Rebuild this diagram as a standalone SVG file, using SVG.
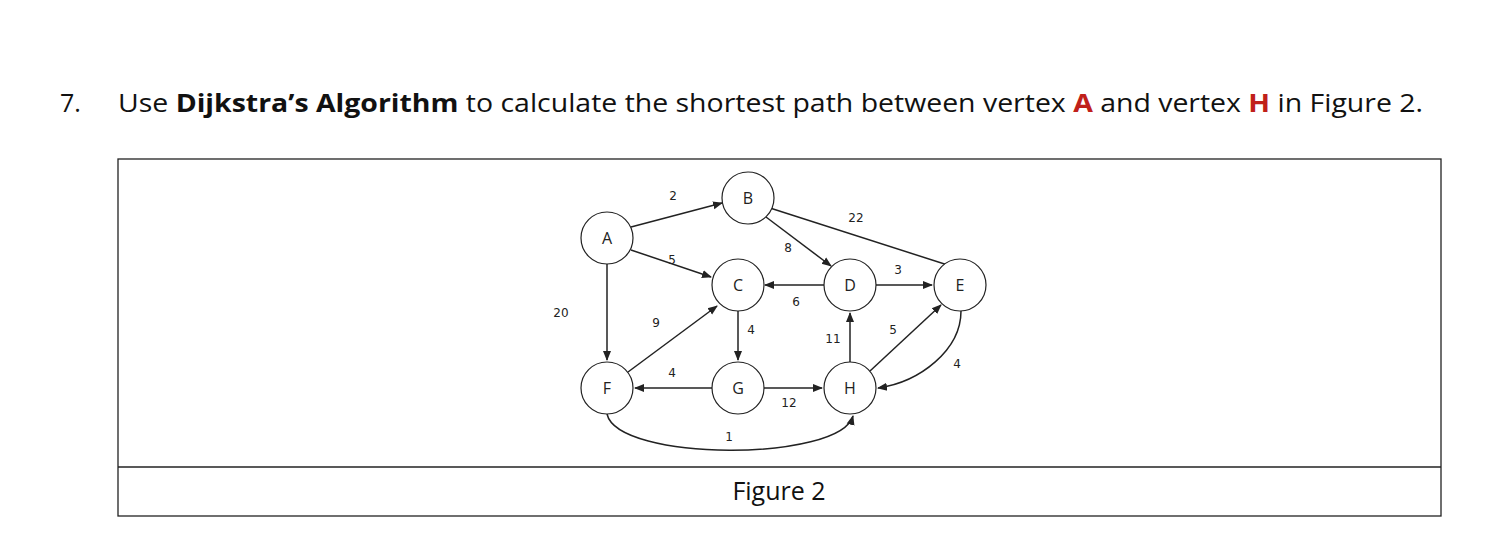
<svg xmlns="http://www.w3.org/2000/svg" width="1504" height="544" viewBox="0 0 1504 544">
<style>
.n circle{fill:#fff;stroke:#222;stroke-width:1.2}
.n text{font-family:"Open Sans","Liberation Sans",sans-serif;font-size:16px;text-anchor:middle;fill:#222}
.e path{fill:none;stroke:#222;stroke-width:1.5}
.lbl{font-family:"DejaVu Sans",sans-serif;font-size:12px;text-anchor:middle;fill:#222}
.t{font-family:"Open Sans","Liberation Sans",sans-serif;font-size:25px;fill:#111}
</style>
<defs><marker id="ar" markerWidth="10" markerHeight="10" refX="9" refY="5" orient="auto" markerUnits="userSpaceOnUse"><path d="M0,1 L10,5 L0,9 z" fill="#222"/></marker></defs>
<rect width="1504" height="544" fill="#fff"/>
<text class="t" x="60" y="112">7.</text>
<text class="t" x="118" y="112" textLength="1305" lengthAdjust="spacingAndGlyphs">Use <tspan font-weight="bold">Dijkstra’s Algorithm</tspan> to calculate the shortest path between vertex <tspan font-weight="bold" fill="#c0201a">A</tspan> and vertex <tspan font-weight="bold" fill="#c0201a">H</tspan> in Figure 2.</text>
<rect x="118" y="159" width="1323" height="357" fill="none" stroke="#222" stroke-width="1.3"/>
<line x1="118" y1="467" x2="1441" y2="467" stroke="#222" stroke-width="1.3"/>
<text class="t" x="779" y="500" text-anchor="middle">Figure 2</text>
<g id="connectors" class="e">
<path d="M631,227 L722,203" marker-end="url(#ar)"/>
<path d="M631,250 L711,277" marker-end="url(#ar)"/>
<path d="M607,264 L607,360" marker-end="url(#ar)"/>
<path d="M770,208 L957,268" marker-end="url(#ar)"/>
<path d="M766,217 L831,266" marker-end="url(#ar)"/>
<path d="M824,285 L765,285" marker-end="url(#ar)"/>
<path d="M876,285 L932,285" marker-end="url(#ar)"/>
<path d="M738,311 L738,360" marker-end="url(#ar)"/>
<path d="M628,372 L717,306" marker-end="url(#ar)"/>
<path d="M712,388 L635,388" marker-end="url(#ar)"/>
<path d="M764,388 L822,388" marker-end="url(#ar)"/>
<path d="M850,362 L850,313" marker-end="url(#ar)"/>
<path d="M870,371 L941,305" marker-end="url(#ar)"/>
<path d="M961,311 C961,350 920,382 878,388" marker-end="url(#ar)"/>
<path d="M607,414 C618,462 840,462 853,416" marker-end="url(#ar)"/>
</g>
<g id="labels">
<text class="lbl" x="673" y="200">2</text>
<text class="lbl" x="856" y="222">22</text>
<text class="lbl" x="788" y="252">8</text>
<text class="lbl" x="672" y="264">5</text>
<text class="lbl" x="898" y="274">3</text>
<text class="lbl" x="561" y="317">20</text>
<text class="lbl" x="656" y="327">9</text>
<text class="lbl" x="796" y="306">6</text>
<text class="lbl" x="751" y="334">4</text>
<text class="lbl" x="833" y="343">11</text>
<text class="lbl" x="893" y="334">5</text>
<text class="lbl" x="957" y="368">4</text>
<text class="lbl" x="672" y="377">4</text>
<text class="lbl" x="789" y="407">12</text>
<text class="lbl" x="729" y="441">1</text>
</g>
<g id="A" class="n"><circle cx="607" cy="238" r="26"/><text x="607" y="244">A</text></g>
<g id="B" class="n"><circle cx="748" cy="198" r="26"/><text x="748" y="204">B</text></g>
<g id="C" class="n"><circle cx="738" cy="285" r="26"/><text x="738" y="291">C</text></g>
<g id="D" class="n"><circle cx="850" cy="285" r="26"/><text x="850" y="291">D</text></g>
<g id="E" class="n"><circle cx="960" cy="285" r="26"/><text x="960" y="291">E</text></g>
<g id="F" class="n"><circle cx="607" cy="388" r="26"/><text x="607" y="394">F</text></g>
<g id="G" class="n"><circle cx="738" cy="388" r="26"/><text x="738" y="394">G</text></g>
<g id="H" class="n"><circle cx="850" cy="388" r="26"/><text x="850" y="394">H</text></g>
</svg>
